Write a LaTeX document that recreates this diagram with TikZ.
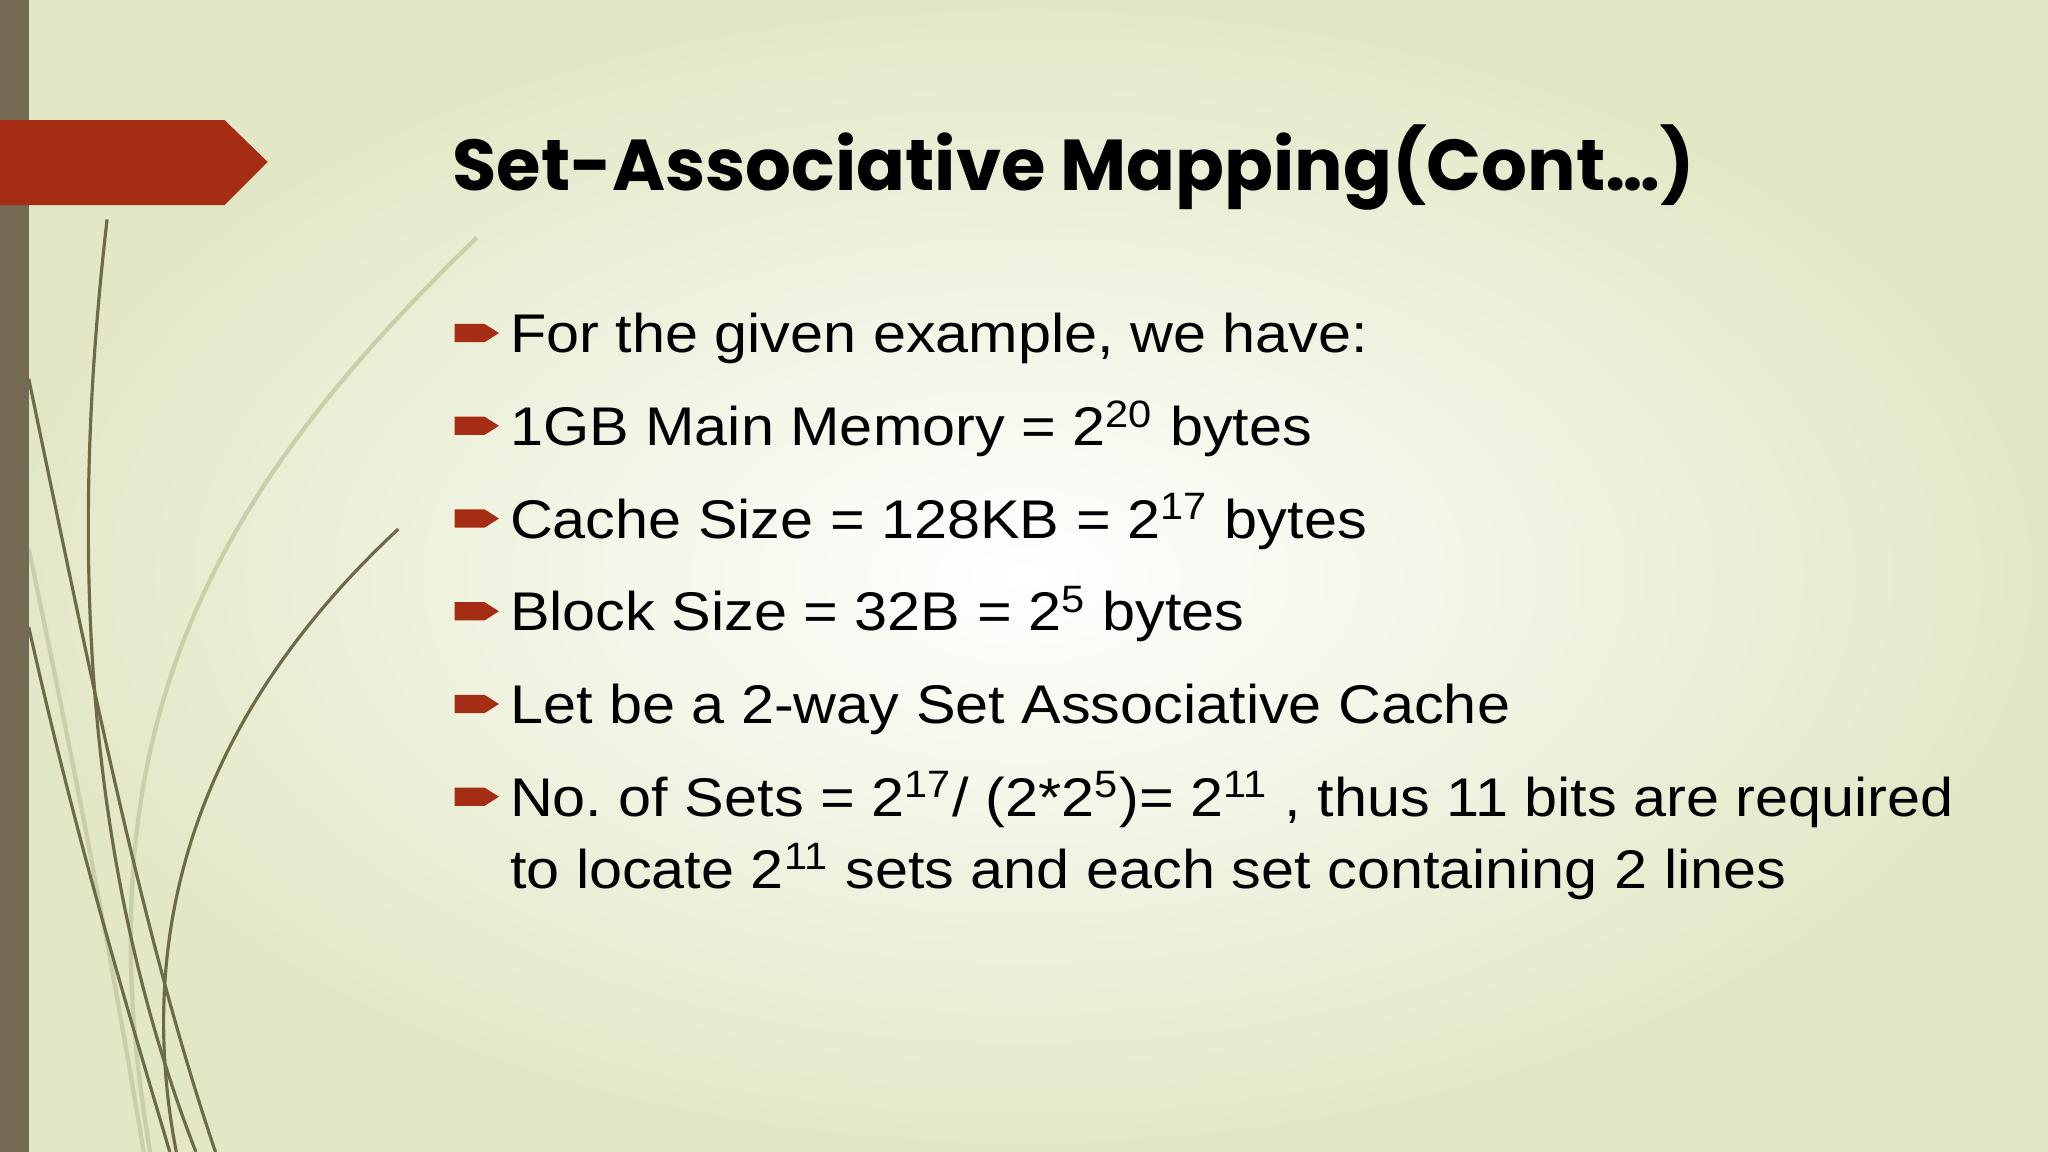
\documentclass[tikz,border=0pt]{standalone}
\usepackage{fontspec}
\setmainfont[FakeStretch=1.09]{Liberation Sans}
\newfontfamily\titlefont{Poppins}
\definecolor{bgout}{HTML}{E2E8C6}
\definecolor{strip}{HTML}{756B55}
\definecolor{banner}{HTML}{A52D14}
\definecolor{grass}{HTML}{6E6A45}
\definecolor{grasspale}{HTML}{C9CFA8}
\tikzset{
  bul/.style={fill=banner,draw=none},
  btext/.style={anchor=base west,inner sep=0pt,font=\fontsize{15.5pt}{19pt}\selectfont},
  gline/.style={draw=grass,line width=0.9pt},
  pline/.style={draw=grasspale,line width=1.2pt}
}
\begin{document}
\begin{tikzpicture}[x=0.013061cm,y=-0.013061cm]
\useasboundingbox (0,0) rectangle (1568,882);
\shade[inner color=white,outer color=bgout] (0,0) rectangle (1568,882);
% grass
\draw[pline] (365,182) .. controls (160,380) and (60,560) .. (115,882);
\draw[pline] (22,420) .. controls (60,600) and (90,760) .. (110,882);
\draw[gline] (82,168) .. controls (55,400) and (60,650) .. (150,882);
\draw[gline] (22,290) .. controls (70,520) and (110,720) .. (165,882);
\draw[gline] (305,405) .. controls (160,540) and (100,700) .. (135,882);
\draw[gline] (22,480) .. controls (60,650) and (100,780) .. (130,882);
% strip & banner
\fill[strip] (0,0) rectangle (22,882);
\fill[banner] (0,92) -- (172,92) -- (205,124) -- (172,157) -- (0,157) -- cycle;
% title
\node[anchor=base west,inner sep=0pt,font=\titlefont\bfseries\fontsize{20.5pt}{24pt}\selectfont] (title) at (346,146) {Set-Associative Mapping(Cont\ldots)};
% bullets
\foreach \y [count=\i] in {270,341,412,483,554,625}{
  \fill[bul] (348,\y-22) -- (371,\y-22) -- (382,\y-15) -- (371,\y-8) -- (348,\y-8) -- cycle;
}
\node[btext] (b1) at (390,270) {For the given example, we have:};
\node[btext] (b2) at (390,341) {1GB Main Memory = 2\textsuperscript{20} bytes};
\node[btext] (b3) at (390,412) {Cache Size = 128KB = 2\textsuperscript{17} bytes};
\node[btext] (b4) at (390,483) {Block Size = 32B = 2\textsuperscript{5} bytes};
\node[btext] (b5) at (390,554) {Let be a 2-way Set Associative Cache};
\node[btext] (b6) at (390,625) {No.\ of Sets = 2\textsuperscript{17}/ (2*2\textsuperscript{5})= 2\textsuperscript{11} , thus 11 bits are required};
\node[btext] (b7) at (390,680) {to locate 2\textsuperscript{11} sets and each set containing 2 lines};
\end{tikzpicture}
\end{document}
